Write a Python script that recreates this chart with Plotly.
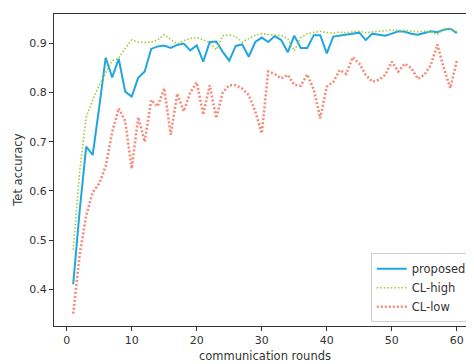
import plotly.graph_objects as go

rounds = list(range(1, 61))

proposed = [0.41, 0.56, 0.69, 0.673, 0.77, 0.871, 0.831, 0.869, 0.802, 0.792,
            0.830, 0.843, 0.889, 0.894, 0.896, 0.891, 0.897, 0.900, 0.886, 0.896,
            0.863, 0.903, 0.904, 0.883, 0.865, 0.895, 0.898, 0.873, 0.903, 0.912,
            0.903, 0.915, 0.907, 0.882, 0.916, 0.891, 0.891, 0.917, 0.917, 0.880,
            0.914, 0.916, 0.917, 0.920, 0.922, 0.907, 0.920, 0.918, 0.916, 0.920,
            0.925, 0.924, 0.920, 0.918, 0.922, 0.925, 0.923, 0.928, 0.930, 0.921]

cl_high = [0.48, 0.64, 0.75, 0.785, 0.815, 0.84, 0.865, 0.87, 0.89, 0.907,
           0.903, 0.902, 0.903, 0.907, 0.918, 0.908, 0.899, 0.906, 0.910, 0.912,
           0.907, 0.902, 0.887, 0.916, 0.917, 0.914, 0.903, 0.910, 0.917, 0.920,
           0.918, 0.917, 0.916, 0.910, 0.885, 0.912, 0.920, 0.922, 0.925, 0.922,
           0.921, 0.923, 0.922, 0.924, 0.925, 0.922, 0.924, 0.925, 0.926, 0.927,
           0.926, 0.927, 0.925, 0.924, 0.925, 0.924, 0.918, 0.930, 0.930, 0.924]

cl_low = [0.35, 0.47, 0.55, 0.597, 0.615, 0.65, 0.72, 0.768, 0.742, 0.645,
          0.750, 0.700, 0.785, 0.772, 0.809, 0.714, 0.798, 0.762, 0.800, 0.821,
          0.755, 0.815, 0.748, 0.800, 0.815, 0.815, 0.808, 0.795, 0.762, 0.717,
          0.843, 0.838, 0.829, 0.836, 0.816, 0.814, 0.837, 0.806, 0.748, 0.812,
          0.822, 0.846, 0.838, 0.872, 0.859, 0.836, 0.822, 0.826, 0.836, 0.863,
          0.843, 0.859, 0.850, 0.828, 0.836, 0.856, 0.898, 0.850, 0.809, 0.865]

x_ticks = [0, 10, 20, 30, 40, 50, 60]
y_ticks = [0.4, 0.5, 0.6, 0.7, 0.8, 0.9]
x_label = "communication rounds"
y_label = "Tet accuracy"

fig = go.Figure()
fig.add_trace(go.Scatter(x=rounds, y=proposed, mode="lines", name="proposed",
                         line=dict(color="#22a6de", width=2)))
fig.add_trace(go.Scatter(x=rounds, y=cl_high, mode="lines", name="CL-high",
                         line=dict(color="#9acd32", width=1.6, dash="1.5px,2px")))
fig.add_trace(go.Scatter(x=rounds, y=cl_low, mode="lines", name="CL-low",
                         line=dict(color="rgba(242,120,100,0.85)", width=2.6, dash="2px,2px")))

axis_common = dict(showline=True, mirror=True, linecolor="#3a3030", linewidth=1,
                   ticks="outside", ticklen=4, tickcolor="#3a3030", showgrid=False,
                   zeroline=False, automargin=False,
                   tickfont=dict(size=11, color="#333333"))

fig.update_layout(
    width=474, height=364,
    margin=dict(l=46, r=6, t=6, b=46),
    paper_bgcolor="white", plot_bgcolor="white",
    font=dict(family="DejaVu Sans", size=11, color="#333333"),
    xaxis=dict(range=[-1.95, 62.95], tickvals=x_ticks, **axis_common),
    yaxis=dict(range=[0.325, 0.96], tickvals=y_ticks, tickformat=".1f", **axis_common),
    legend=dict(x=0.99, y=0.012, xanchor="right", yanchor="bottom",
                bgcolor="rgba(255,255,255,0.85)", bordercolor="#d0d0d0", borderwidth=1,
                font=dict(size=11.5, color="#333333"), tracegroupgap=0,
                itemwidth=30),
    showlegend=True,
    annotations=[
        dict(text=x_label, xref="paper", yref="paper", x=0.5, y=-0.096,
             xanchor="center", yanchor="middle", showarrow=False,
             font=dict(size=11.5, color="#333333")),
        dict(text=y_label, xref="paper", yref="paper", x=-0.086, y=0.5,
             xanchor="center", yanchor="middle", textangle=-90, showarrow=False,
             font=dict(size=11.5, color="#333333")),
    ],
)

fig.write_html("out.html")
